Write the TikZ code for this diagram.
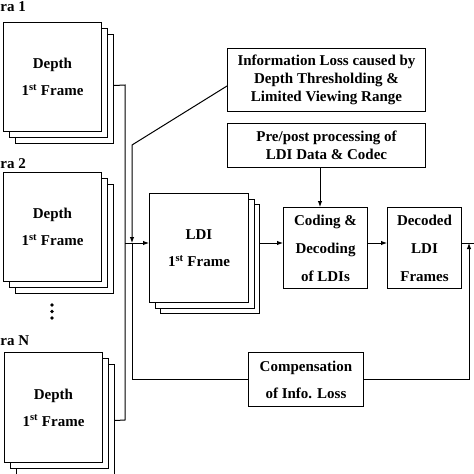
\documentclass[tikz,border=0pt]{standalone}
\usepackage{fontspec}
\setmainfont{Liberation Serif}
\usetikzlibrary{arrows.meta,shadows,calc}
\begin{document}
\begin{tikzpicture}[x=1pt,y=-1pt, line width=1pt,
  >={Latex[length=6pt,width=4.5pt]},
  box/.style={draw, fill=white, inner sep=0pt, align=center, anchor=north west,
    font=\bfseries\fontsize{15}{27}\selectfont},
  tight/.style={font=\bfseries\fontsize{15}{18}\selectfont},
  stack/.style={double copy shadow={shadow xshift=#1, shadow yshift=-#1, draw=black, fill=white}},
  cam/.style={anchor=base west, inner sep=0pt, font=\bfseries\fontsize{15}{18}\selectfont},
  dotmark/.style={fill=black, draw=none}]
\useasboundingbox (0,0) rectangle (474,474);
\clip (0,0) rectangle (474,474);
\fill[white] (0,0) rectangle (474,474);

% camera labels (cropped in the picture)
\node[cam] (c1lab) at (0,11.5) {ra 1};
\node[cam] (c2lab) at (0,168) {ra 2};
\node[cam] (cNlab) at (0,345.5) {ra N};

% camera stacks
\node[box, stack=6pt, minimum width=98pt, minimum height=109pt] (cam1) at (3,22) {Depth\\1\textsuperscript{st} Frame};
\node[box, stack=6pt, minimum width=98pt, minimum height=109pt] (cam2) at (3,172) {Depth\\1\textsuperscript{st} Frame};
\node[box, stack=6pt, minimum width=98pt, minimum height=110pt] (camN) at (4,352) {Depth\\1\textsuperscript{st} Frame};

% dots
\fill[dotmark] (52,305) circle (1.8);
\fill[dotmark] (52,311.5) circle (1.8);
\fill[dotmark] (52,318) circle (1.8);

% LDI stack
\node[box, stack=5.5pt, minimum width=99pt, minimum height=109pt] (ldi) at (149,193) {LDI\\1\textsuperscript{st} Frame};

% processing boxes
\node[box, tight, minimum width=198pt, minimum height=63pt] (info) at (227,48) {Information Loss caused by\\Depth Thresholding \&\\Limited Viewing Range};
\node[box, tight, minimum width=198pt, minimum height=44pt] (pre) at (227,123) {Pre/post processing of\\LDI Data \& Codec};
\node[box, font=\bfseries\fontsize{15}{28}\selectfont, minimum width=84pt, minimum height=81pt] (coding) at (283,207) {Coding \&\\Decoding\\of LDIs};
\node[box, font=\bfseries\fontsize{15}{28}\selectfont, minimum width=74pt, minimum height=81pt] (decoded) at (387,207) {Decoded\\LDI\\Frames};
\node[box, minimum width=115pt, minimum height=54pt] (comp) at (248,352) {Compensation\\of Info. Loss};

% helper coordinates
\coordinate (row) at (0,243);
\coordinate (bt) at (125,85);
\coordinate (bb) at (125,420);
\coordinate (bj) at (125,243);
\coordinate (dk) at (132,145);
\coordinate (rx) at (469,243);
\coordinate (cx) at (320,0);
\coordinate (outr) at (476,243);

% bus from cameras
\draw ($(cam1.east)+(12,8.5)$) -- (bt) -- (bb) -- ($(camN.east)+(12,13)$);
\draw[->] (bj) -- (bj -| ldi.west);

% info loss diagonal
\draw[->] ([yshift=-6pt]info.west) -- (dk) -- (dk |- row);
% compensation loop left
\draw (comp.west) -- (comp.west -| dk) -- (dk |- row);
% compensation loop right
\draw[->] (comp.east) -- (comp.east -| rx) -- (rx);

% main chain
\draw[->] ($(ldi.east |- row)+(11,0)$) -- (coding.west |- row);
\draw[->] (coding.east |- row) -- (decoded.west |- row);
\draw (decoded.east |- row) -- (outr);
\draw[->] (cx |- pre.south) -- (cx |- coding.north);
\end{tikzpicture}
\end{document}
